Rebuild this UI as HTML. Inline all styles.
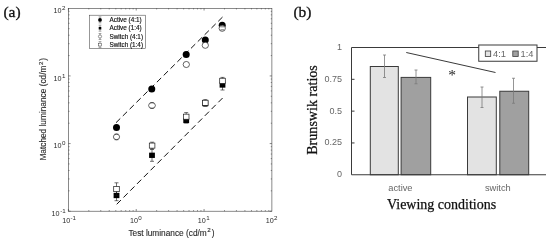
<!DOCTYPE html><html><head><meta charset="utf-8"><title>Figure</title><style>html,body{margin:0;padding:0;background:#fff}svg{display:block}text{white-space:pre}</style></head><body>
<svg width="550" height="240" viewBox="0 0 550 240">
<rect width="550" height="240" fill="#fff"/>
<g stroke="#3c3c3c" stroke-width="0.6" fill="none">
<rect x="68.4" y="8.3" width="203.49999999999997" height="202.89999999999998"/>
<path d="M68.40 211.2v-2.2M68.40 8.3v2.2M68.4 211.20h2.2M271.9 211.20h-2.2M88.82 211.2v-1.1M88.82 8.3v1.1M68.4 190.84h1.1M271.9 190.84h-1.1M100.76 211.2v-1.1M100.76 8.3v1.1M68.4 178.93h1.1M271.9 178.93h-1.1M109.24 211.2v-1.1M109.24 8.3v1.1M68.4 170.48h1.1M271.9 170.48h-1.1M115.81 211.2v-1.1M115.81 8.3v1.1M68.4 163.93h1.1M271.9 163.93h-1.1M121.18 211.2v-1.1M121.18 8.3v1.1M68.4 158.57h1.1M271.9 158.57h-1.1M125.73 211.2v-1.1M125.73 8.3v1.1M68.4 154.04h1.1M271.9 154.04h-1.1M129.66 211.2v-1.1M129.66 8.3v1.1M68.4 150.12h1.1M271.9 150.12h-1.1M133.13 211.2v-1.1M133.13 8.3v1.1M68.4 146.66h1.1M271.9 146.66h-1.1M136.23 211.2v-2.2M136.23 8.3v2.2M68.4 143.57h2.2M271.9 143.57h-2.2M156.65 211.2v-1.1M156.65 8.3v1.1M68.4 123.21h1.1M271.9 123.21h-1.1M168.60 211.2v-1.1M168.60 8.3v1.1M68.4 111.30h1.1M271.9 111.30h-1.1M177.07 211.2v-1.1M177.07 8.3v1.1M68.4 102.85h1.1M271.9 102.85h-1.1M183.65 211.2v-1.1M183.65 8.3v1.1M68.4 96.29h1.1M271.9 96.29h-1.1M189.02 211.2v-1.1M189.02 8.3v1.1M68.4 90.94h1.1M271.9 90.94h-1.1M193.56 211.2v-1.1M193.56 8.3v1.1M68.4 86.41h1.1M271.9 86.41h-1.1M197.49 211.2v-1.1M197.49 8.3v1.1M68.4 82.49h1.1M271.9 82.49h-1.1M200.96 211.2v-1.1M200.96 8.3v1.1M68.4 79.03h1.1M271.9 79.03h-1.1M204.07 211.2v-2.2M204.07 8.3v2.2M68.4 75.93h2.2M271.9 75.93h-2.2M224.49 211.2v-1.1M224.49 8.3v1.1M68.4 55.57h1.1M271.9 55.57h-1.1M236.43 211.2v-1.1M236.43 8.3v1.1M68.4 43.66h1.1M271.9 43.66h-1.1M244.91 211.2v-1.1M244.91 8.3v1.1M68.4 35.21h1.1M271.9 35.21h-1.1M251.48 211.2v-1.1M251.48 8.3v1.1M68.4 28.66h1.1M271.9 28.66h-1.1M256.85 211.2v-1.1M256.85 8.3v1.1M68.4 23.30h1.1M271.9 23.30h-1.1M261.39 211.2v-1.1M261.39 8.3v1.1M68.4 18.78h1.1M271.9 18.78h-1.1M265.33 211.2v-1.1M265.33 8.3v1.1M68.4 14.85h1.1M271.9 14.85h-1.1M268.80 211.2v-1.1M268.80 8.3v1.1M68.4 11.39h1.1M271.9 11.39h-1.1"/>
</g>
<text x="62.20" y="223.3" font-family="Liberation Sans, Arial, sans-serif" font-size="7.2" fill="#2a2a2a">10<tspan dx="0.3" dy="-3.1" font-size="6.2">-1</tspan></text>
<text x="59.60" y="215.90" text-anchor="end" font-family="Liberation Sans, Arial, sans-serif" font-size="7.2" fill="#2a2a2a">10</text>
<text x="60.20" y="212.80" font-family="Liberation Sans, Arial, sans-serif" font-size="6.2" fill="#2a2a2a">-1</text>
<text x="130.03" y="223.3" font-family="Liberation Sans, Arial, sans-serif" font-size="7.2" fill="#2a2a2a">10<tspan dx="0.3" dy="-3.1" font-size="6.2">0</tspan></text>
<text x="61.50" y="148.27" text-anchor="end" font-family="Liberation Sans, Arial, sans-serif" font-size="7.2" fill="#2a2a2a">10</text>
<text x="62.10" y="145.17" font-family="Liberation Sans, Arial, sans-serif" font-size="6.2" fill="#2a2a2a">0</text>
<text x="197.87" y="223.3" font-family="Liberation Sans, Arial, sans-serif" font-size="7.2" fill="#2a2a2a">10<tspan dx="0.3" dy="-3.1" font-size="6.2">1</tspan></text>
<text x="61.50" y="80.63" text-anchor="end" font-family="Liberation Sans, Arial, sans-serif" font-size="7.2" fill="#2a2a2a">10</text>
<text x="62.10" y="77.53" font-family="Liberation Sans, Arial, sans-serif" font-size="6.2" fill="#2a2a2a">1</text>
<text x="265.70" y="223.3" font-family="Liberation Sans, Arial, sans-serif" font-size="7.2" fill="#2a2a2a">10<tspan dx="0.3" dy="-3.1" font-size="6.2">2</tspan></text>
<text x="61.50" y="13.00" text-anchor="end" font-family="Liberation Sans, Arial, sans-serif" font-size="7.2" fill="#2a2a2a">10</text>
<text x="62.10" y="9.90" font-family="Liberation Sans, Arial, sans-serif" font-size="6.2" fill="#2a2a2a">2</text>
<text x="128.4" y="235.6" font-family="Liberation Sans, Arial, sans-serif" font-size="8.3" fill="#2a2a2a" stroke="#2a2a2a" stroke-width="0.12">Test luminance (cd/m<tspan dx="0.5" dy="-3.4" font-size="6.2">2</tspan><tspan dx="0.9" dy="3.4">)</tspan></text>
<text transform="translate(46.3 160.6) rotate(-90)" font-family="Liberation Sans, Arial, sans-serif" font-size="8.3" fill="#2a2a2a" stroke="#2a2a2a" stroke-width="0.12">Matched luminance (cd/m<tspan dx="0.5" dy="-3.4" font-size="6.2">2</tspan><tspan dx="0.9" dy="3.4">)</tspan></text>
<g stroke="#111" stroke-width="1" stroke-dasharray="6 3.6" fill="none">
<path d="M116 122.7L222.6 17"/><path d="M116.7 204.3L223 97.6"/></g>
<circle cx="116.5" cy="127.5" r="3.5" fill="#000"/>
<circle cx="151.75" cy="88.95" r="3.5" fill="#000"/>
<circle cx="186.2" cy="54.5" r="3.5" fill="#000"/>
<circle cx="205.3" cy="40" r="3.5" fill="#000"/>
<circle cx="222.2" cy="25.3" r="3.5" fill="#000"/>
<path d="M116.5 190.3V200.7M114.5 190.3h4M114.5 200.7h4" stroke="#111" stroke-width="0.6" fill="none"/>
<rect x="113.6" y="192.85" width="5.8" height="5.3" fill="#000"/>
<path d="M152 149.3V161.3M150 149.3h4M150 161.3h4" stroke="#111" stroke-width="0.6" fill="none"/>
<rect x="149.1" y="152.65" width="5.8" height="5.3" fill="#000"/>
<path d="M186.2 118.0V123.0M184.2 118.0h4M184.2 123.0h4" stroke="#111" stroke-width="0.6" fill="none"/>
<rect x="183.29999999999998" y="117.85" width="5.8" height="5.3" fill="#000"/>
<path d="M205.3 101.1V106.1M203.3 101.1h4M203.3 106.1h4" stroke="#111" stroke-width="0.6" fill="none"/>
<rect x="202.4" y="100.94999999999999" width="5.8" height="5.3" fill="#000"/>
<path d="M222.5 80V90M220.5 80h4M220.5 90h4" stroke="#111" stroke-width="0.6" fill="none"/>
<rect x="219.6" y="82.35" width="5.8" height="5.3" fill="#000"/>
<ellipse cx="116.5" cy="136.9" rx="3.1" ry="2.8" fill="#fff" stroke="#222" stroke-width="0.7"/>
<path d="M114.7 134.05h3.6M114.7 139.75h3.6" stroke="#222" stroke-width="0.6" fill="none"/>
<ellipse cx="152" cy="105.5" rx="3.4" ry="2.85" fill="#fff" stroke="#222" stroke-width="0.7"/>
<path d="M150.2 102.6h3.6M150.2 108.4h3.6" stroke="#222" stroke-width="0.6" fill="none"/>
<ellipse cx="186.3" cy="64.5" rx="3.15" ry="3.05" fill="#fff" stroke="#222" stroke-width="0.7"/>
<ellipse cx="205.3" cy="45.3" rx="3.15" ry="3.05" fill="#fff" stroke="#222" stroke-width="0.7"/>
<ellipse cx="222.2" cy="28.3" rx="3.15" ry="3.05" fill="#fff" stroke="#222" stroke-width="0.7"/>
<path d="M220.39999999999998 26.8h3.6M220.39999999999998 29.8h3.6" stroke="#222" stroke-width="0.6" fill="none"/>
<path d="M116.5 182.79999999999998V195.4M114.5 182.79999999999998h4M114.5 195.4h4" stroke="#111" stroke-width="0.6" fill="none"/>
<rect x="113.7" y="186.54999999999998" width="5.6" height="5.1" fill="#fff" stroke="#1a1a1a" stroke-width="0.7"/>
<path d="M152.1 142.2V149.0M150.1 142.2h4M150.1 149.0h4" stroke="#111" stroke-width="0.6" fill="none"/>
<rect x="149.29999999999998" y="143.04999999999998" width="5.6" height="5.1" fill="#fff" stroke="#1a1a1a" stroke-width="0.7"/>
<path d="M186.2 112.60000000000001V120.8M184.2 112.60000000000001h4M184.2 120.8h4" stroke="#111" stroke-width="0.6" fill="none"/>
<rect x="183.39999999999998" y="114.15" width="5.6" height="5.1" fill="#fff" stroke="#1a1a1a" stroke-width="0.7"/>
<path d="M205.3 99.6V106.0M203.3 99.6h4M203.3 106.0h4" stroke="#111" stroke-width="0.6" fill="none"/>
<rect x="202.5" y="100.25" width="5.6" height="5.1" fill="#fff" stroke="#1a1a1a" stroke-width="0.7"/>
<path d="M222.5 77.39999999999999V84.2M220.5 77.39999999999999h4M220.5 84.2h4" stroke="#111" stroke-width="0.6" fill="none"/>
<rect x="219.7" y="78.25" width="5.6" height="5.1" fill="#fff" stroke="#1a1a1a" stroke-width="0.7"/>
<rect x="89.6" y="15.2" width="55.8" height="33.4" fill="#fff" stroke="#444" stroke-width="0.55"/>
<text x="109.5" y="22.15" font-family="Liberation Sans, Arial, sans-serif" font-size="6.35" fill="#111" stroke="#111" stroke-width="0.15">Active (4:1)</text>
<path d="M100 16.9V22.9M98.6 16.9h2.8M98.6 22.9h2.8" stroke="#555" stroke-width="0.5"/>
<circle cx="100" cy="19.9" r="1.9" fill="#000"/>
<text x="109.5" y="30.45" font-family="Liberation Sans, Arial, sans-serif" font-size="6.35" fill="#111" stroke="#111" stroke-width="0.15">Active (1:4)</text>
<path d="M100 25.2V31.2M98.6 25.2h2.8M98.6 31.2h2.8" stroke="#555" stroke-width="0.5"/>
<rect x="98.7" y="26.9" width="2.6" height="2.6" fill="#000"/>
<text x="109.5" y="38.75" font-family="Liberation Sans, Arial, sans-serif" font-size="6.35" fill="#111" stroke="#111" stroke-width="0.15">Switch (4:1)</text>
<path d="M100 33.5V39.5M98.6 33.5h2.8M98.6 39.5h2.8" stroke="#555" stroke-width="0.5"/>
<circle cx="100" cy="36.5" r="1.6" fill="#fff" stroke="#333" stroke-width="0.5"/>
<text x="109.5" y="46.85" font-family="Liberation Sans, Arial, sans-serif" font-size="6.35" fill="#111" stroke="#111" stroke-width="0.15">Switch (1:4)</text>
<path d="M100 41.6V47.6M98.6 41.6h2.8M98.6 47.6h2.8" stroke="#555" stroke-width="0.5"/>
<rect x="98.6" y="43.2" width="2.8" height="2.8" fill="#fff" stroke="#333" stroke-width="0.5"/>
<text x="3.4" y="16.5" font-family="Liberation Serif, serif" font-size="15.5" fill="#111" stroke="#111" stroke-width="0.3">(a)</text>
<text x="293.4" y="16.5" font-family="Liberation Serif, serif" font-size="15.5" fill="#111" stroke="#111" stroke-width="0.3">(b)</text>
<rect x="370.3" y="66.5" width="28.0" height="108.25" fill="#e3e3e3" stroke="#3a3a3a" stroke-width="1"/>
<rect x="401.1" y="77.4" width="29.599999999999966" height="97.35" fill="#a0a0a0" stroke="#3a3a3a" stroke-width="1"/>
<rect x="467.5" y="97" width="28.80000000000001" height="77.75" fill="#e3e3e3" stroke="#3a3a3a" stroke-width="1"/>
<rect x="499.8" y="91.25" width="28.900000000000034" height="83.5" fill="#a0a0a0" stroke="#3a3a3a" stroke-width="1"/>
<path d="M384.5 55V77.5M383.0 55h3M383.0 77.5h3" stroke="#7a7a7a" stroke-width="0.8" fill="none"/>
<path d="M416 70V83.75M414.5 70h3M414.5 83.75h3" stroke="#7a7a7a" stroke-width="0.8" fill="none"/>
<path d="M482 87V107.5M480.5 87h3M480.5 107.5h3" stroke="#7a7a7a" stroke-width="0.8" fill="none"/>
<path d="M513.5 78.25V103.25M512.0 78.25h3M512.0 103.25h3" stroke="#7a7a7a" stroke-width="0.8" fill="none"/>
<path d="M351.5 174.75V47.5H546M351.5 174.75H546" stroke="#3a3a3a" stroke-width="1" fill="none"/>
<path d="M351.5 79.3125h3" stroke="#3a3a3a" stroke-width="1"/>
<path d="M351.5 111.125h3" stroke="#3a3a3a" stroke-width="1"/>
<path d="M351.5 142.9375h3" stroke="#3a3a3a" stroke-width="1"/>
<text x="342" y="50.00" text-anchor="end" font-family="Liberation Sans, Arial, sans-serif" font-size="9" fill="#666">1</text>
<text x="342" y="81.81" text-anchor="end" font-family="Liberation Sans, Arial, sans-serif" font-size="9" fill="#666">0.75</text>
<text x="342" y="113.62" text-anchor="end" font-family="Liberation Sans, Arial, sans-serif" font-size="9" fill="#666">0.5</text>
<text x="342" y="145.44" text-anchor="end" font-family="Liberation Sans, Arial, sans-serif" font-size="9" fill="#666">0.25</text>
<text x="342" y="177.25" text-anchor="end" font-family="Liberation Sans, Arial, sans-serif" font-size="9" fill="#666">0</text>
<text x="400.4" y="190.6" text-anchor="middle" font-family="Liberation Sans, Arial, sans-serif" font-size="9.3" fill="#666">active</text>
<text x="497.8" y="190.6" text-anchor="middle" font-family="Liberation Sans, Arial, sans-serif" font-size="9.3" fill="#666">switch</text>
<text x="387" y="209.4" font-family="Liberation Serif, serif" font-size="14" fill="#111" stroke="#111" stroke-width="0.25">Viewing conditions</text>
<text transform="translate(316.6 154.8) rotate(-90)" font-family="Liberation Serif, serif" font-size="14.1" fill="#111" stroke="#111" stroke-width="0.25">Brunswik ratios</text>
<path d="M406.25 52.5L495.5 72.5" stroke="#3a3a3a" stroke-width="1" fill="none"/>
<text x="452.2" y="80.4" text-anchor="middle" font-family="Liberation Serif, serif" font-size="15.5" fill="#222">*</text>
<rect x="478.75" y="45" width="58.25" height="16.25" fill="#fff" stroke="#3a3a3a" stroke-width="1"/>
<rect x="485.3" y="51" width="5.4" height="5.4" fill="#e3e3e3" stroke="#3a3a3a" stroke-width="0.8"/>
<rect x="512.8" y="51" width="5.4" height="5.4" fill="#a0a0a0" stroke="#3a3a3a" stroke-width="0.8"/>
<text x="493" y="56.9" font-family="Liberation Sans, Arial, sans-serif" font-size="9.3" fill="#666">4:1</text>
<text x="520.5" y="56.9" font-family="Liberation Sans, Arial, sans-serif" font-size="9.3" fill="#666">1:4</text>
</svg></body></html>
